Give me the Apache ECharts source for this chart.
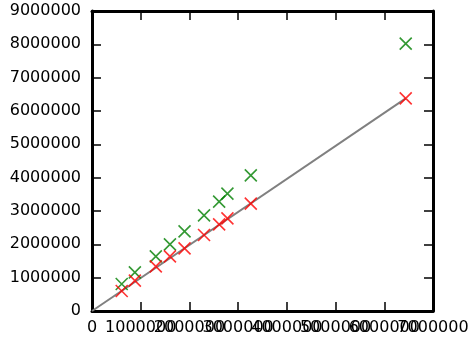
<!DOCTYPE html>
<html>
<head>
<meta charset="utf-8">
<script src="https://cdn.jsdelivr.net/npm/echarts@6/dist/echarts.min.js"></script>
<style>
  html, body { margin: 0; padding: 0; background: #fff; }
  #chart { width: 474px; height: 349px; }
</style>
</head>
<body>
<div id="chart"></div>
<script>
// x values shared by both marker series
const xValues = [610000, 880000, 1310000, 1600000, 1900000, 2300000, 2610000, 2780000, 3260000, 6440000];
// green markers (upper set)
const greenValues = [810000, 1160000, 1640000, 2000000, 2390000, 2870000, 3280000, 3520000, 4070000, 8020000];
// red markers (lower set)
const redValues = [600000, 910000, 1340000, 1640000, 1880000, 2280000, 2600000, 2780000, 3220000, 6380000];
// grey reference line end points
const lineX = [0, 6440000];
const lineY = [0, 6380000];

const xTicks = [0, 1000000, 2000000, 3000000, 4000000, 5000000, 6000000, 7000000];
const yTicks = [0, 1000000, 2000000, 3000000, 4000000, 5000000, 6000000, 7000000, 8000000, 9000000];

const chart = echarts.init(document.getElementById("chart"));

const crossPath = "path://M0,0L10,10M10,0L0,10";
const xMax = xTicks[xTicks.length - 1];
const yMax = yTicks[yTicks.length - 1];

const frameLine = () => ({ show: true, onZero: false, lineStyle: { color: "#000", width: 3 } });
const innerTick = () => ({ show: true, inside: true, length: 9, lineStyle: { color: "#000", width: 1.5 } });
const labelFont = () => ({ color: "#000", fontFamily: "DejaVu Sans", fontSize: 16 });

const zip = (a, b) => a.map((v, i) => [v, b[i]]);

// 构造一根坐标轴
const makeAxis = (min, max, position, label) => ({
  type: "value",
  min: min,
  max: max,
  interval: 1000000,
  position: position,
  axisLine: frameLine(),
  axisTick: innerTick(),
  splitLine: { show: true, lineStyle: { color: "rgba(0,0,0,0)" } },
  axisLabel: label || { show: true, color: "rgba(0,0,0,0)", formatter: () => "" },
});

// bottom: all labels except the last; a second bottom axis only shows the last one
const bottomAxis = makeAxis(xTicks[0], xMax, "bottom",
  Object.assign({ margin: 9, showMinLabel: true, showMaxLabel: false, formatter: (v) => String(v) }, labelFont()));
const bottomMaxAxis = makeAxis(xTicks[0], xMax, "bottom",
  Object.assign({ margin: 9, showMaxLabel: true, formatter: (v) => (v === xMax ? String(v) : "") }, labelFont()));
bottomMaxAxis.axisLine = { show: false, onZero: false };
bottomMaxAxis.axisTick = { show: false };
bottomMaxAxis.splitLine = { show: false };

chart.setOption({
  animation: false,
  grid: { left: 92, top: 11, width: 341, height: 300, outerBoundsMode: "none", containLabel: false },
  xAxis: [
    bottomAxis,
    makeAxis(xTicks[0], xMax, "top"),
    bottomMaxAxis,
  ],
  yAxis: [
    makeAxis(yTicks[0], yMax, "left",
      Object.assign({ margin: 11, showMinLabel: true, showMaxLabel: true, formatter: (v) => String(v) }, labelFont())),
    makeAxis(yTicks[0], yMax, "right"),
  ],
  series: [
    {
      type: "line",
      data: zip(lineX, lineY),
      symbol: "none",
      lineStyle: { color: "#808080", width: 2 },
      z: 2,
    },
    {
      type: "scatter",
      data: zip(xValues, greenValues),
      symbol: crossPath,
      symbolSize: 12,
      itemStyle: { color: "none", borderColor: "#008000", borderWidth: 1.6 },
      z: 3,
    },
    {
      type: "scatter",
      data: zip(xValues, redValues),
      symbol: crossPath,
      symbolSize: 12,
      itemStyle: { color: "none", borderColor: "#ff0000", borderWidth: 1.6 },
      z: 3,
    },
  ],
});
</script>
</body>
</html>
